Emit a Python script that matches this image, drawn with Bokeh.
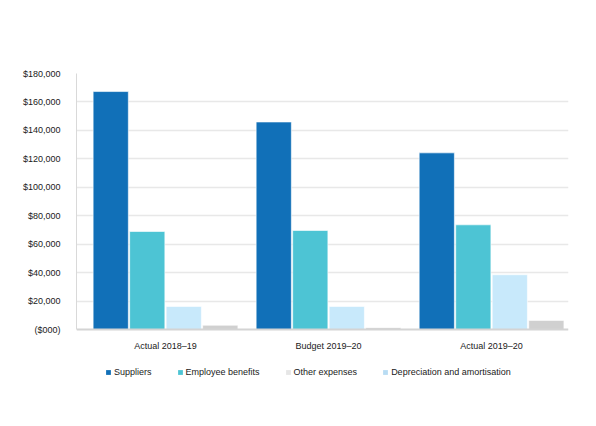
from bokeh.plotting import figure
from bokeh.models import Range1d, Legend, LegendItem, FixedTicker, NumeralTickFormatter, ColumnDataSource
from bokeh.embed import file_html
from bokeh.resources import INLINE

categories = ["Actual 2018–19", "Budget 2019–20", "Actual 2019–20"]
suppliers = [167300, 145900, 124200]
employee_benefits = [68900, 69600, 73600]
depreciation = [16200, 16200, 38500]
other_expenses = [3000, 1300, 6400]
y_ticks = [0, 20000, 40000, 60000, 80000, 100000, 120000, 140000, 160000, 180000]

FONT = "Liberation Sans"
UPP = 180000 / 256.0  # value units per pixel

p = figure(width=596, height=426, output_backend="svg", toolbar_location=None,
           x_range=Range1d(-0.046, 2.972), y_range=Range1d(-77 * UPP, 180000),
           min_border_left=76, min_border_right=28, min_border_top=73, min_border_bottom=20)
p.outline_line_color = None
p.background_fill_color = "white"
p.border_fill_color = "white"

xc = [i + 0.5 for i in range(len(categories))]
pitch = 0.224
bw = 0.216
series = [
    ("Suppliers", suppliers, "#1170b8", -1.5),
    ("Employee benefits", employee_benefits, "#4dc4d4", -0.5),
    ("Depreciation and amortisation", depreciation, "#c8e9fb", 0.5),
    ("Other expenses", other_expenses, "#d0d0d0", 1.5),
]
for name, vals, col, off in series:
    src = ColumnDataSource(dict(x=[c + off * pitch for c in xc], top=vals))
    p.vbar(x="x", top="top", width=bw, bottom=0, source=src, fill_color=col,
           line_color="white", line_alpha=0.6, line_width=1)

p.xgrid.grid_line_color = None
p.ygrid.grid_line_color = "#e8e8e8"
p.ygrid.grid_line_width = 1.5
p.ygrid.ticker = FixedTicker(ticks=y_ticks[1:])

ya = p.yaxis[0]
ya.ticker = FixedTicker(ticks=y_ticks)
ya.bounds = (0, 180000)
ya.formatter = NumeralTickFormatter(format="$0,0")
ya.major_label_overrides = {0: "($000)"}
ya.axis_line_color = "#d9d9d9"
ya.axis_line_width = 1
ya.major_tick_line_color = None
ya.minor_tick_line_color = None
ya.major_label_standoff = 10
ya.major_label_text_font = FONT
ya.major_label_text_font_size = "9px"
ya.major_label_text_color = "#1a1a1a"

xa = p.xaxis[0]
xa.fixed_location = 0
xa.ticker = FixedTicker(ticks=xc)
xa.major_label_overrides = {x: c for x, c in zip(xc, categories)}
xa.axis_line_color = "#d4d4d4"
xa.axis_line_width = 2
xa.major_tick_line_color = None
xa.minor_tick_line_color = None
xa.major_label_standoff = 5
xa.major_label_text_font = FONT
xa.major_label_text_font_size = "9px"
xa.major_label_text_color = "#1a1a1a"

# legend (own swatch colours, as in the reference)
legend_labels = ["Suppliers", "Employee benefits", "Other expenses", "Depreciation and amortisation"]
legend_colors = ["#1170b8", "#4dc4d4", "#e6e6e6", "#b8dcf3"]
items = []
for lab, col in zip(legend_labels, legend_colors):
    r = p.vbar(x=[-10], top=[0], width=0.1, fill_color=col, line_color=None)
    items.append(LegendItem(label=lab, renderers=[r]))
legend = Legend(items=items, orientation="horizontal", location=(29, 28),
                glyph_width=6, glyph_height=6, label_height=12, label_standoff=3,
                spacing=25, padding=0, margin=0, border_line_color=None,
                background_fill_alpha=0, label_text_font=FONT,
                label_text_font_size="9px", label_text_color="#1a1a1a")
p.add_layout(legend, "center")

open("out.html", "w").write(file_html(p, INLINE))
